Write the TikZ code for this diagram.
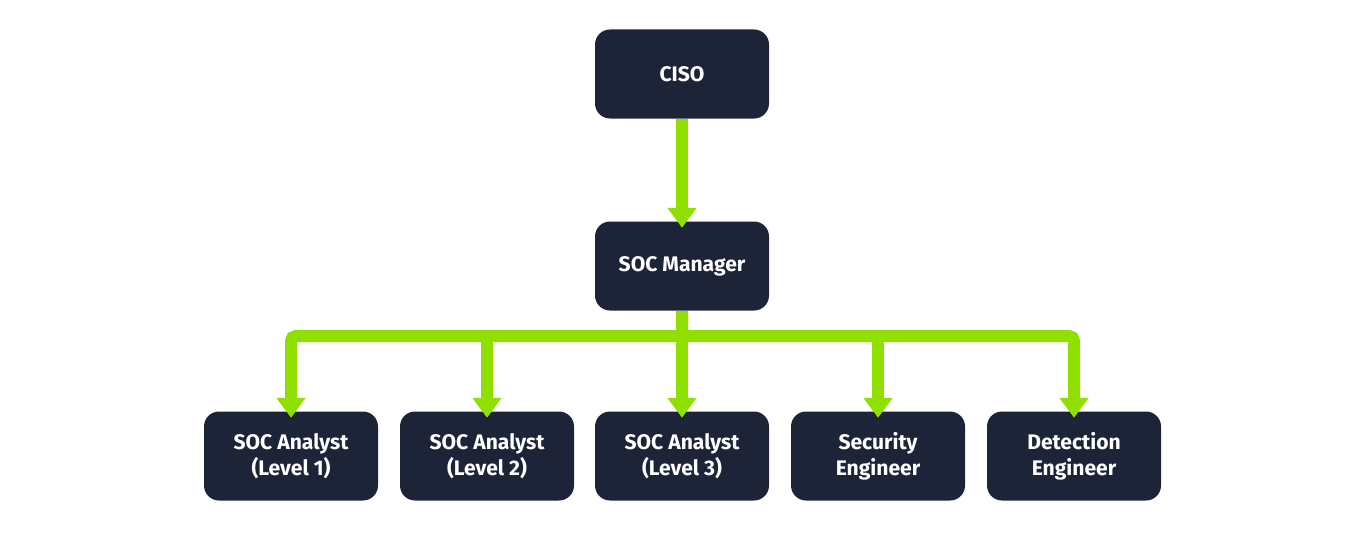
\documentclass[tikz,border=0pt]{standalone}
\usepackage{fontspec}
\setmainfont{Fira Sans}
\usetikzlibrary{arrows.meta,positioning}
\definecolor{boxbg}{HTML}{1E2438}
\definecolor{lime}{HTML}{8FE000}
\tikzset{
  role/.style={fill=boxbg, rounded corners=0.15cm, minimum width=1.74cm, minimum height=0.89cm,
    text=white, font=\bfseries\fontsize{6pt}{7.4pt}\selectfont, align=center, inner sep=0pt},
  link/.style={draw=lime, line width=0.12cm, rounded corners=0.05cm,
    -{Triangle[length=0.2cm, width=0.28cm]}, shorten >=-0.07cm}
}
\begin{document}
\begin{tikzpicture}
		\useasboundingbox (0,0) rectangle (13.58,5.48);
		\node [role](ciso) at (6.82,4.74) {CISO};
		\node [role](mgr) at (6.82,2.82) {SOC Manager};
		\node [role](l1) at (2.91,0.92) {SOC Analyst\\(Level 1)};
		\node [role](l2) at (4.87,0.92) {SOC Analyst\\(Level 2)};
		\node [role](l3) at (6.82,0.92) {SOC Analyst\\(Level 3)};
		\node [role](sec) at (8.78,0.92) {Security\\Engineer};
		\node [role](det) at (10.74,0.92) {Detection\\Engineer};
		\coordinate (bus) at (6.82,2.12);
		\draw [link] (ciso) -- (mgr);
		\draw [link] (mgr.south) -- (bus) -| (l1.north);
		\draw [link] (mgr.south) -- (bus) -| (det.north);
		\foreach \n in {l2,l3,sec}
			\draw [link] (bus -| \n.north) -- (\n.north);
		\end{tikzpicture}
\end{document}
